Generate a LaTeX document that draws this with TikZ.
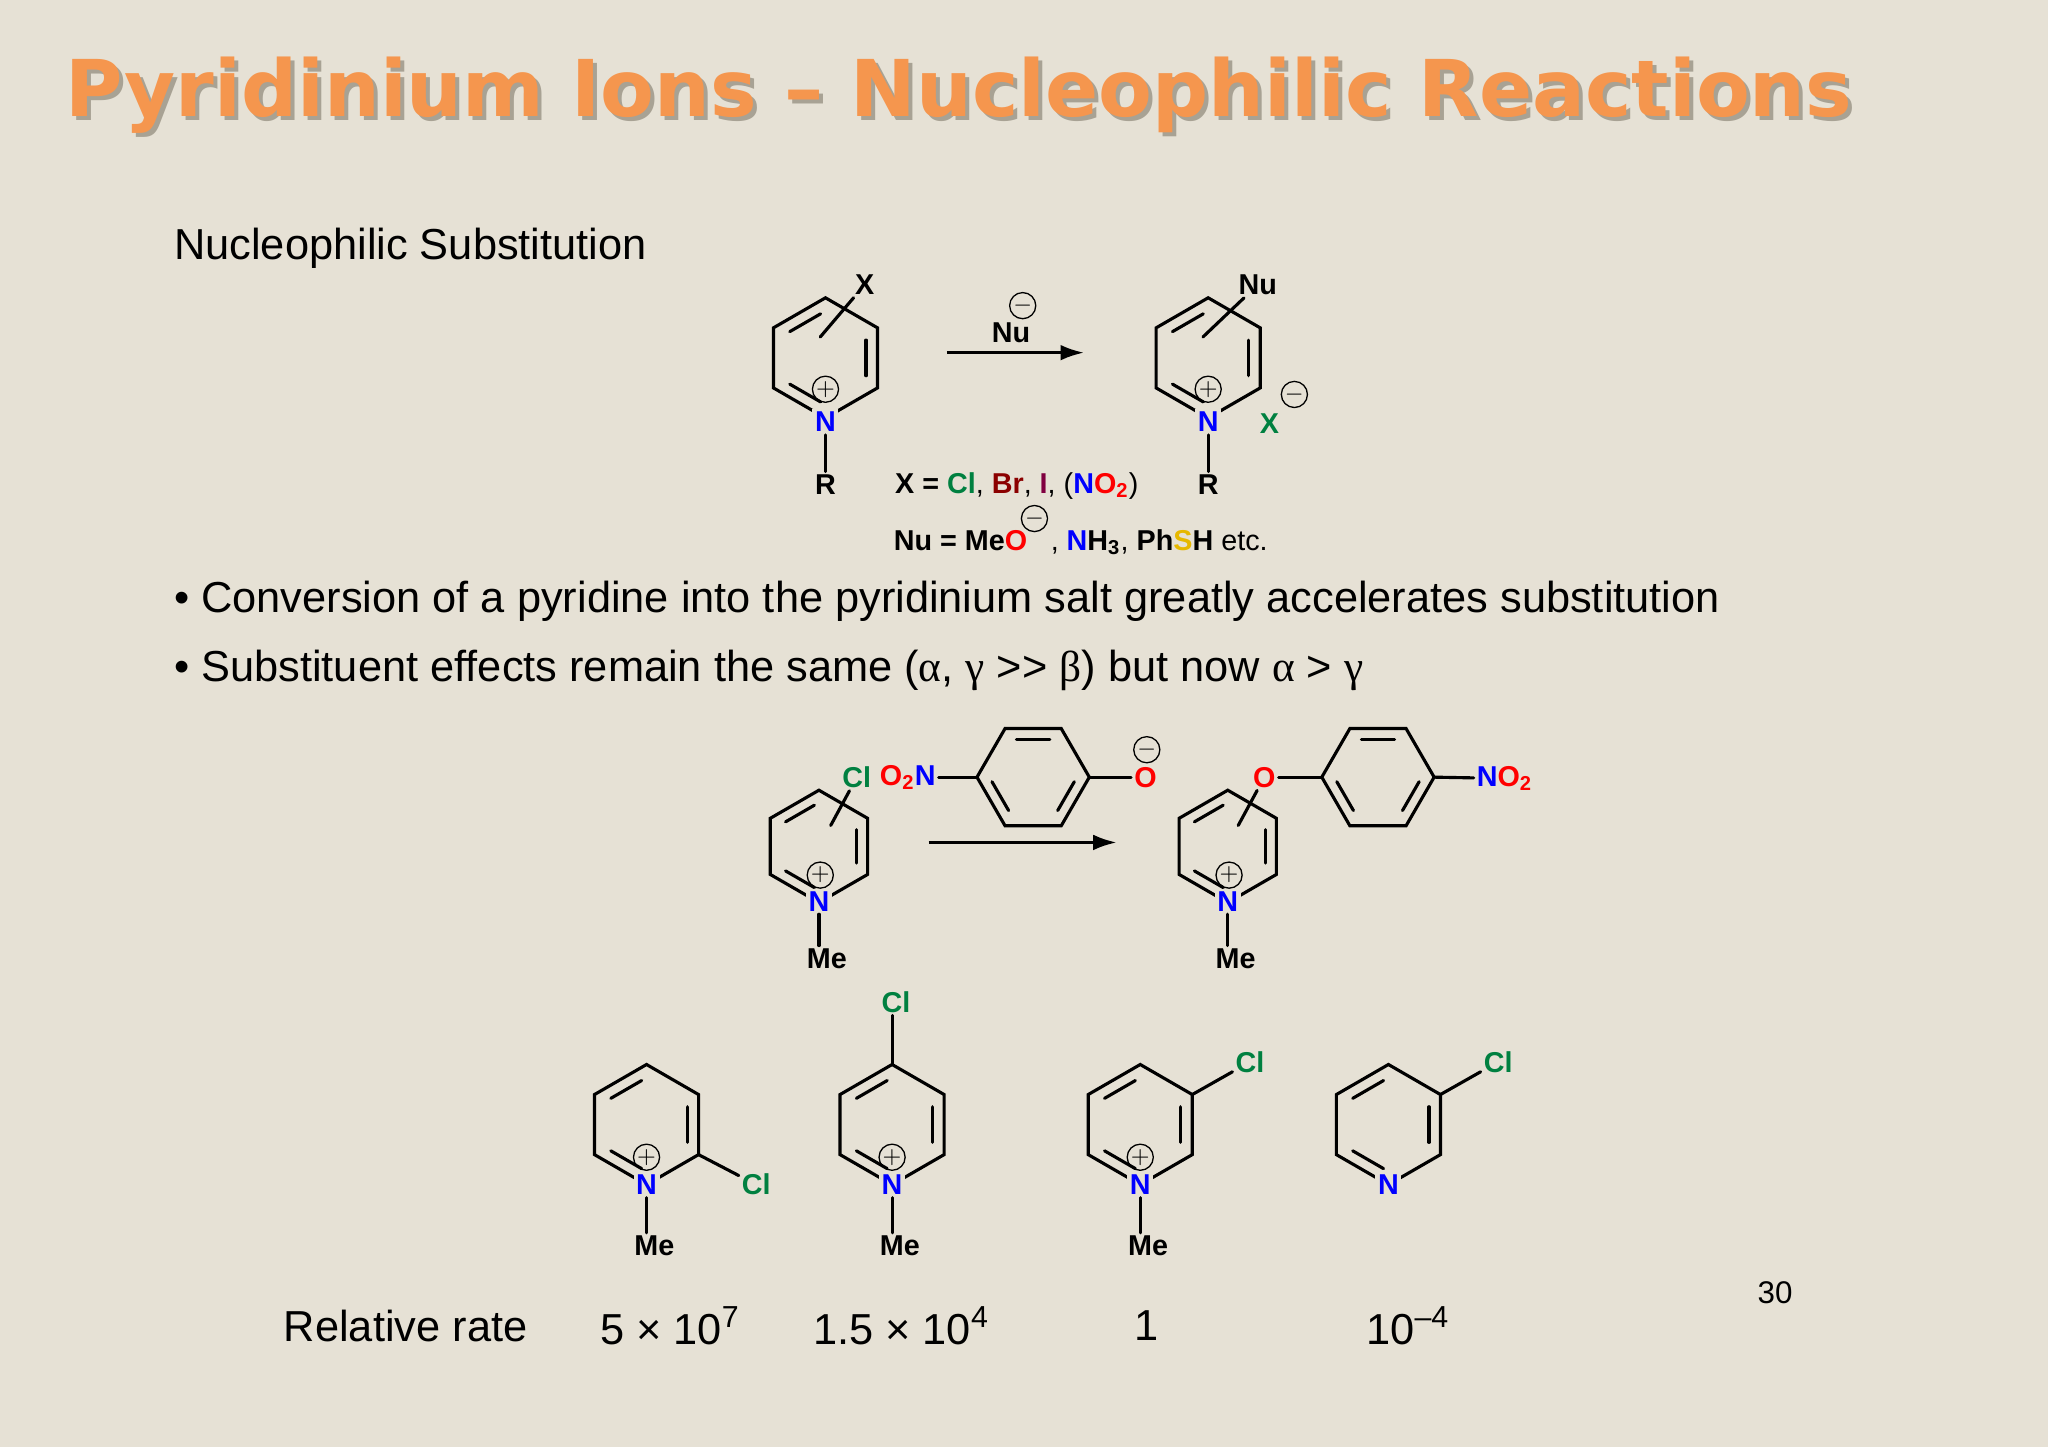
\documentclass[tikz,border=0pt]{standalone}
\usepackage{fontspec}
\setmainfont{Liberation Sans}
\newfontfamily\titlefont{DejaVu Sans}
\newfontfamily\grk{Liberation Serif}
\usetikzlibrary{calc,arrows.meta}
\definecolor{bg}{HTML}{E6E1D5}
\definecolor{ttl}{HTML}{F5964E}
\definecolor{shd}{HTML}{A8A294}
\definecolor{clg}{HTML}{008040}
\definecolor{brr}{HTML}{8B0000}
\definecolor{iod}{HTML}{800040}
\definecolor{nbl}{HTML}{0000FF}
\definecolor{ored}{HTML}{FF0000}
\definecolor{sy}{HTML}{E6B800}
\tikzset{
 bond/.style={line width=1.2pt,line cap=round},
 lab/.style={font=\fontsize{11}{12}\selectfont\bfseries,inner sep=1pt},
 nlab/.style={lab,text=nbl,fill=bg},
 chg/.style={circle,draw,line width=0.5pt,inner sep=0pt,minimum size=10pt,font=\fontsize{9}{9}\selectfont},
 body/.style={font=\fontsize{16.6}{19}\selectfont,inner sep=0pt,anchor=west},
 rxn/.style={line width=1.2pt,-{Latex[length=9pt,width=6pt]}}
}
\newcommand{\dbl}[3]{%
 \path ($(#3)!0.78!(#1)$) coordinate (tmpa) ($(#3)!0.78!(#2)$) coordinate (tmpb);
 \draw[bond] ($(tmpa)!0.12!(tmpb)$) -- ($(tmpa)!0.88!(tmpb)$);}
\newcommand{\pyr}[4]{%
 \coordinate (#4c) at (#1,#2);
 \coordinate (#4t) at (#1,{#2-#3});
 \coordinate (#4ur) at ({#1+0.866*#3},{#2-0.5*#3});
 \coordinate (#4lr) at ({#1+0.866*#3},{#2+0.5*#3});
 \coordinate (#4b) at (#1,{#2+#3});
 \coordinate (#4ll) at ({#1-0.866*#3},{#2+0.5*#3});
 \coordinate (#4ul) at ({#1-0.866*#3},{#2-0.5*#3});
 \draw[bond] (#4t)--(#4ur)--(#4lr)--(#4b)--(#4ll)--(#4ul)--cycle;
 \dbl{#4t}{#4ul}{#4c}\dbl{#4ur}{#4lr}{#4c}\dbl{#4ll}{#4b}{#4c}}
\newcommand{\benz}[4]{%
 \coordinate (#4c) at (#1,#2);
 \coordinate (#4l) at ({#1-#3},#2);
 \coordinate (#4r) at ({#1+#3},#2);
 \coordinate (#4tl) at ({#1-0.5*#3},{#2-0.866*#3});
 \coordinate (#4tr) at ({#1+0.5*#3},{#2-0.866*#3});
 \coordinate (#4bl) at ({#1-0.5*#3},{#2+0.866*#3});
 \coordinate (#4br) at ({#1+0.5*#3},{#2+0.866*#3});
 \draw[bond] (#4l)--(#4tl)--(#4tr)--(#4r)--(#4br)--(#4bl)--cycle;
 \dbl{#4tl}{#4tr}{#4c}\dbl{#4l}{#4bl}{#4c}\dbl{#4br}{#4r}{#4c}}
\begin{document}
\begin{tikzpicture}[x=0.5pt,y=-0.5pt]
\fill[bg] (0,0) rectangle (1568,1108);
\useasboundingbox (0,0) rectangle (1568,1108);
\node[anchor=west,text=shd,inner sep=0pt,font=\titlefont\fontsize{30}{32}\selectfont\bfseries] (tshadow) at (53,76) {Pyridinium Ions – Nucleophilic Reactions};
\node[anchor=west,text=ttl,inner sep=0pt,font=\titlefont\fontsize{30}{32}\selectfont\bfseries] (title) at (50,73) {Pyridinium Ions – Nucleophilic Reactions};
\node[body] (sub) at (133,190) {Nucleophilic Substitution};
% reaction 1
\pyr{632}{274}{46}{a}
\node[nlab] (an) at (632,323) {N};
\node[chg] (ap) at (632,298) {$+$};
\node[lab] (ar) at (632,371) {R};
\draw[bond] (an) -- (ar);
\node[lab] (ax) at (662,218) {X};
\coordinate (axs) at (628,258);
\draw[bond] (axs) -- (ax);
\coordinate (arr1s) at (725,270); \coordinate (arr1e) at (830,270);
\draw[rxn] (arr1s) -- (arr1e);
\node[lab] (nu) at (774,255) {Nu};
\node[chg] (num) at (783,234) {$-$};
\pyr{925}{274}{46}{b}
\node[nlab] (bn) at (925,323) {N};
\node[chg] (bp) at (925,298) {$+$};
\node[lab] (br) at (925,371) {R};
\draw[bond] (bn) -- (br);
\node[lab] (bnu) at (963,218) {Nu};
\coordinate (bxs) at (921,258);
\draw[bond] (bxs) -- (bnu);
\node[lab,text=clg] (bx) at (972,324) {X};
\node[chg] (bxm) at (991,302) {$-$};
\node[lab,anchor=west] (xeq) at (683,372) {X = \textcolor{clg}{Cl}\textmd{,} \textcolor{brr}{Br}\textmd{,} \textcolor{iod}{I}\textmd{, (}\textcolor{nbl}{N}\textcolor{ored}{O\textsubscript{2}}\textmd{)}};
\node[lab,anchor=west] (nueq) at (682,415) {Nu = Me\textcolor{ored}{O}\hspace{9pt}\textmd{,} \textcolor{nbl}{N}H\textsubscript{3}\textmd{,} Ph\textcolor{sy}{S}H \textmd{etc.}};
\node[chg] (om) at (792,397) {$-$};
% bullets
\node[body] (b1) at (133,460) {• Conversion of a pyridine into the pyridinium salt greatly accelerates substitution};
\node[body] (b2) at (133,513) {• Substituent effects remain the same ({\grk α}, {\grk γ} >{}> {\grk β}) but now {\grk α} > {\grk γ}};
% reaction 2
\pyr{627}{648}{43}{c}
\node[nlab] (cn) at (627,690) {N};
\node[chg] (cp) at (628,670) {$+$};
\node[lab] (cme) at (633,734) {Me};
\draw[bond] (cn) -- (cn |- cme.north);
\node[lab,text=clg] (ccl) at (656,595) {Cl};
\coordinate (ccls) at (636,632);
\draw[bond] (ccls) -- (ccl);
\benz{791}{595}{43}{d}
\node[lab] (dno) at (695,595) {\textcolor{ored}{O\textsubscript{2}}\textcolor{nbl}{N}};
\draw[bond] (dno) -- (dl);
\node[lab,text=ored] (do) at (877,595) {O};
\draw[bond] (dr) -- (do);
\node[chg] (dom) at (878,574) {$-$};
\coordinate (arr2s) at (711,645); \coordinate (arr2e) at (855,645);
\draw[rxn] (arr2s) -- (arr2e);
\pyr{940}{648}{43}{e}
\node[nlab] (en) at (940,690) {N};
\node[chg] (ep) at (941,670) {$+$};
\node[lab] (eme) at (946,734) {Me};
\draw[bond] (en) -- (en |- eme.north);
\node[lab,text=ored] (eo) at (968,595) {O};
\coordinate (eos) at (948,632);
\draw[bond] (eos) -- (eo);
\benz{1055}{595}{43}{f}
\draw[bond] (eo) -- (fl);
\node[lab] (fno) at (1152,596) {\textcolor{nbl}{N}\textcolor{ored}{O\textsubscript{2}}};
\draw[bond] (fr) -- (fno);
% bottom row
\pyr{495}{861}{46}{g}
\node[nlab] (gn) at (495,907) {N};
\node[chg] (gp) at (495,886) {$+$};
\node[lab] (gme) at (501,954) {Me};
\draw[bond] (gn) -- (gn |- gme.north);
\node[lab,text=clg] (gcl) at (579,907) {Cl};
\draw[bond] (glr) -- (gcl);
\pyr{683}{861}{46}{h}
\node[nlab] (hn) at (683,907) {N};
\node[chg] (hp) at (683,886) {$+$};
\node[lab] (hme) at (689,954) {Me};
\draw[bond] (hn) -- (hn |- hme.north);
\node[lab,text=clg] (hcl) at (686,767) {Cl};
\draw[bond] (ht) -- (ht |- hcl.south);
\pyr{873}{861}{46}{k}
\node[nlab] (kn) at (873,907) {N};
\node[chg] (kp) at (873,886) {$+$};
\node[lab] (kme) at (879,954) {Me};
\draw[bond] (kn) -- (kn |- kme.north);
\node[lab,text=clg] (kcl) at (957,813) {Cl};
\draw[bond] (kur) -- (kcl);
\pyr{1063}{861}{46}{m}
\node[nlab] (mn) at (1063,907) {N};
\node[lab,text=clg] (mcl) at (1147,813) {Cl};
\draw[bond] (mur) -- (mcl);
% rates
\node[body] (rr) at (217,1015) {Relative rate};
\node[body,anchor=center] (r1) at (513,1015) {5 × 10\textsuperscript{7}};
\node[body,anchor=center] (r2) at (690,1015) {1.5 × 10\textsuperscript{4}};
\node[body,anchor=center] (r3) at (878,1015) {1};
\node[body,anchor=center] (r4) at (1078,1015) {10\textsuperscript{–4}};
\node[font=\fontsize{12}{14}\selectfont] (pg) at (1359,990) {30};
\end{tikzpicture}
\end{document}
